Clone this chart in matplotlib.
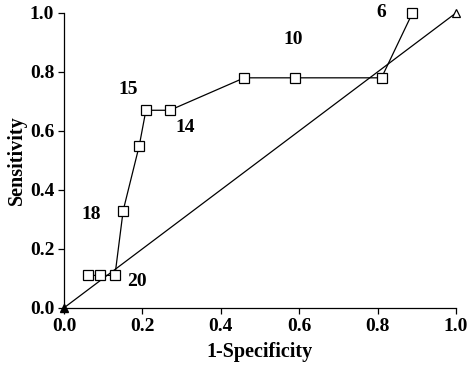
import numpy as np
import matplotlib
matplotlib.use("Agg")
from matplotlib import pyplot as plt

# ROC curve points (1-specificity, sensitivity)
fpr = [0.061, 0.092, 0.13, 0.151, 0.192, 0.209, 0.27, 0.46, 0.59, 0.81, 0.889]
tpr = [0.11, 0.11, 0.11, 0.33, 0.55, 0.67, 0.67, 0.78, 0.78, 0.78, 1.0]

# reference line
ref_x = [0.0, 1.0]
ref_y = [0.0, 1.0]

# cut-off labels
cut_labels = ["15", "14", "10", "6", "18", "20"]
cut_x = [0.163, 0.31, 0.585, 0.81, 0.07, 0.185]
cut_y = [0.74, 0.61, 0.91, 1.0, 0.315, 0.09]

ticks = [0.0, 0.2, 0.4, 0.6, 0.8, 1.0]

plt.rcParams['font.family'] = ['Liberation Serif', 'DejaVu Serif']
plt.rcParams['font.weight'] = 'bold'

fig = plt.figure(figsize=(4.74, 3.70), dpi=100)
ax = fig.add_axes([0.135, 0.168, 0.827, 0.797])

ax.plot(ref_x, ref_y, color='black', lw=0.9, clip_on=False, zorder=2)
ax.plot(ref_x[1:], ref_y[1:], marker='^', ms=6, mfc='white', mec='black',
        mew=0.9, ls='none', clip_on=False, zorder=3)
ax.plot(ref_x[:1], ref_y[:1], marker='^', ms=5.5, mfc='black', mec='black',
        ls='none', clip_on=False, zorder=3)

ax.plot(fpr, tpr, color='black', lw=0.9, marker='s', ms=6.5, mfc='white',
        mec='black', mew=0.9, clip_on=False, zorder=4)

for lab, x, y in zip(cut_labels, cut_x, cut_y):
    ax.text(x, y, lab, fontsize=14, fontweight='bold', ha='center', va='center')

ax.set_xlim(0, 1)
ax.set_ylim(0, 1)
ax.set_xticks(ticks)
ax.set_yticks(ticks)
ax.set_xticklabels(["%.1f" % t for t in ticks])
ax.set_yticklabels(["%.1f" % t for t in ticks])
ax.tick_params(direction='out', length=4, width=0.9, labelsize=14, pad=3)
for lab in ax.get_xticklabels() + ax.get_yticklabels():
    lab.set_fontweight('bold')

ax.spines['top'].set_visible(False)
ax.spines['right'].set_visible(False)
ax.spines['left'].set_linewidth(0.9)
ax.spines['bottom'].set_linewidth(0.9)

ax.set_xlabel('1-Specificity', fontsize=14.5, fontweight='bold', labelpad=5)
ax.set_ylabel('Sensitivity', fontsize=14.5, fontweight='bold', labelpad=2)

fig.savefig('out.png', dpi=100)
